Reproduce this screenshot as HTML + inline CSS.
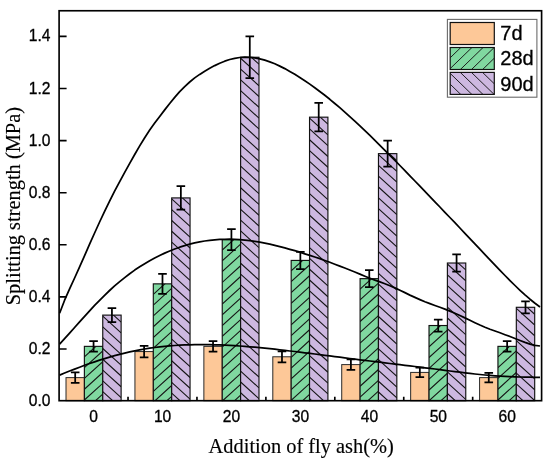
<!DOCTYPE html>
<html lang="en"><head><meta charset="utf-8"><title>Splitting strength vs fly ash addition</title>
<style>html,body{margin:0;padding:0;background:#fff}svg{display:block}</style></head>
<body>
<svg width="550" height="462" viewBox="0 0 550 462">
<rect width="550" height="462" fill="#fff"/>
<defs><clipPath id="c1"><rect x="84.38" y="346.37" width="18.37" height="54.33"/></clipPath><clipPath id="c2"><rect x="102.75" y="315.11" width="18.37" height="85.59"/></clipPath><clipPath id="c3"><rect x="153.31" y="283.86" width="18.37" height="116.84"/></clipPath><clipPath id="c4"><rect x="171.68" y="197.91" width="18.37" height="202.79"/></clipPath><clipPath id="c5"><rect x="222.24" y="239.58" width="18.37" height="161.12"/></clipPath><clipPath id="c6"><rect x="240.61" y="57.27" width="18.37" height="343.43"/></clipPath><clipPath id="c7"><rect x="291.17" y="260.42" width="18.37" height="140.28"/></clipPath><clipPath id="c8"><rect x="309.54" y="117.17" width="18.37" height="283.53"/></clipPath><clipPath id="c9"><rect x="360.09" y="278.65" width="18.37" height="122.05"/></clipPath><clipPath id="c10"><rect x="378.46" y="153.63" width="18.37" height="247.07"/></clipPath><clipPath id="c11"><rect x="429.02" y="325.53" width="18.37" height="75.17"/></clipPath><clipPath id="c12"><rect x="447.39" y="263.02" width="18.37" height="137.68"/></clipPath><clipPath id="c13"><rect x="497.95" y="346.37" width="18.37" height="54.33"/></clipPath><clipPath id="c14"><rect x="516.32" y="307.30" width="18.37" height="93.40"/></clipPath><clipPath id="c15"><rect x="450.20" y="47.50" width="44.10" height="22.00"/></clipPath><clipPath id="c16"><rect x="450.20" y="72.40" width="44.10" height="22.00"/></clipPath></defs>
<path d="M59.10 348.97H66.60M59.10 296.88H66.60M59.10 244.79H66.60M59.10 192.70H66.60M59.10 140.61H66.60M59.10 88.52H66.60M59.10 36.43H66.60M93.56 400.70V393.20M162.49 400.70V393.20M231.42 400.70V393.20M300.35 400.70V393.20M369.28 400.70V393.20M438.21 400.70V393.20M507.14 400.70V393.20M128.03 400.70V396.70M196.96 400.70V396.70M265.89 400.70V396.70M334.81 400.70V396.70M403.74 400.70V396.70M472.67 400.70V396.70" stroke="#000" stroke-width="1.65" fill="none"/>
<rect x="66.01" y="377.62" width="18.37" height="23.08" fill="#fdc898"/>
<rect x="66.01" y="377.62" width="18.37" height="23.08" fill="none" stroke="#2a2a2a" stroke-width="1.0"/>
<rect x="84.38" y="346.37" width="18.37" height="54.33" fill="#80d8a0"/>
<path clip-path="url(#c1)" d="M84.38 356.86L102.75 340.14M84.38 367.65L102.75 350.93M84.38 378.44L102.75 361.72M84.38 389.23L102.75 372.51M84.38 400.02L102.75 383.30M84.38 410.81L102.75 394.09" stroke="#151515" stroke-width="1.1" fill="none"/>
<rect x="84.38" y="346.37" width="18.37" height="54.33" fill="none" stroke="#111" stroke-width="1.15"/>
<rect x="102.75" y="315.11" width="18.37" height="85.59" fill="#cdb8e0"/>
<path clip-path="url(#c2)" d="M102.75 305.32L121.12 322.04M102.75 316.11L121.12 332.83M102.75 326.90L121.12 343.62M102.75 337.69L121.12 354.41M102.75 348.48L121.12 365.20M102.75 359.27L121.12 375.99M102.75 370.06L121.12 386.78M102.75 380.85L121.12 397.57M102.75 391.64L121.12 408.36" stroke="#151515" stroke-width="1.1" fill="none"/>
<rect x="102.75" y="315.11" width="18.37" height="85.59" fill="none" stroke="#111" stroke-width="1.15"/>
<rect x="134.94" y="351.57" width="18.37" height="49.13" fill="#fdc898"/>
<rect x="134.94" y="351.57" width="18.37" height="49.13" fill="none" stroke="#2a2a2a" stroke-width="1.0"/>
<rect x="153.31" y="283.86" width="18.37" height="116.84" fill="#80d8a0"/>
<path clip-path="url(#c3)" d="M153.31 294.35L171.68 277.63M153.31 305.14L171.68 288.42M153.31 315.93L171.68 299.21M153.31 326.72L171.68 310.00M153.31 337.51L171.68 320.79M153.31 348.30L171.68 331.58M153.31 359.09L171.68 342.37M153.31 369.88L171.68 353.16M153.31 380.67L171.68 363.95M153.31 391.46L171.68 374.74M153.31 402.25L171.68 385.53M153.31 413.04L171.68 396.32" stroke="#151515" stroke-width="1.1" fill="none"/>
<rect x="153.31" y="283.86" width="18.37" height="116.84" fill="none" stroke="#111" stroke-width="1.15"/>
<rect x="171.68" y="197.91" width="18.37" height="202.79" fill="#cdb8e0"/>
<path clip-path="url(#c4)" d="M171.68 188.12L190.05 204.84M171.68 198.91L190.05 215.63M171.68 209.70L190.05 226.42M171.68 220.49L190.05 237.21M171.68 231.28L190.05 248.00M171.68 242.07L190.05 258.79M171.68 252.86L190.05 269.58M171.68 263.65L190.05 280.37M171.68 274.44L190.05 291.16M171.68 285.23L190.05 301.95M171.68 296.02L190.05 312.74M171.68 306.81L190.05 323.53M171.68 317.60L190.05 334.32M171.68 328.39L190.05 345.11M171.68 339.18L190.05 355.90M171.68 349.97L190.05 366.69M171.68 360.76L190.05 377.48M171.68 371.55L190.05 388.27M171.68 382.34L190.05 399.06M171.68 393.13L190.05 409.85" stroke="#151515" stroke-width="1.1" fill="none"/>
<rect x="171.68" y="197.91" width="18.37" height="202.79" fill="none" stroke="#111" stroke-width="1.15"/>
<rect x="203.87" y="346.37" width="18.37" height="54.33" fill="#fdc898"/>
<rect x="203.87" y="346.37" width="18.37" height="54.33" fill="none" stroke="#2a2a2a" stroke-width="1.0"/>
<rect x="222.24" y="239.58" width="18.37" height="161.12" fill="#80d8a0"/>
<path clip-path="url(#c5)" d="M222.24 250.07L240.61 233.35M222.24 260.86L240.61 244.14M222.24 271.65L240.61 254.93M222.24 282.44L240.61 265.72M222.24 293.23L240.61 276.51M222.24 304.02L240.61 287.30M222.24 314.81L240.61 298.09M222.24 325.60L240.61 308.88M222.24 336.39L240.61 319.67M222.24 347.18L240.61 330.46M222.24 357.97L240.61 341.25M222.24 368.76L240.61 352.04M222.24 379.55L240.61 362.83M222.24 390.34L240.61 373.62M222.24 401.13L240.61 384.41M222.24 411.92L240.61 395.20" stroke="#151515" stroke-width="1.1" fill="none"/>
<rect x="222.24" y="239.58" width="18.37" height="161.12" fill="none" stroke="#111" stroke-width="1.15"/>
<rect x="240.61" y="57.27" width="18.37" height="343.43" fill="#cdb8e0"/>
<path clip-path="url(#c6)" d="M240.61 47.48L258.98 64.19M240.61 58.27L258.98 74.98M240.61 69.06L258.98 85.77M240.61 79.85L258.98 96.56M240.61 90.64L258.98 107.35M240.61 101.43L258.98 118.14M240.61 112.22L258.98 128.93M240.61 123.01L258.98 139.72M240.61 133.80L258.98 150.51M240.61 144.59L258.98 161.30M240.61 155.38L258.98 172.09M240.61 166.17L258.98 182.88M240.61 176.96L258.98 193.67M240.61 187.75L258.98 204.46M240.61 198.54L258.98 215.25M240.61 209.33L258.98 226.04M240.61 220.12L258.98 236.83M240.61 230.91L258.98 247.62M240.61 241.70L258.98 258.41M240.61 252.49L258.98 269.20M240.61 263.28L258.98 279.99M240.61 274.07L258.98 290.78M240.61 284.86L258.98 301.57M240.61 295.65L258.98 312.36M240.61 306.44L258.98 323.15M240.61 317.23L258.98 333.94M240.61 328.02L258.98 344.73M240.61 338.81L258.98 355.52M240.61 349.60L258.98 366.31M240.61 360.39L258.98 377.10M240.61 371.18L258.98 387.89M240.61 381.97L258.98 398.68M240.61 392.76L258.98 409.47" stroke="#151515" stroke-width="1.1" fill="none"/>
<rect x="240.61" y="57.27" width="18.37" height="343.43" fill="none" stroke="#111" stroke-width="1.15"/>
<rect x="272.80" y="356.78" width="18.37" height="43.92" fill="#fdc898"/>
<rect x="272.80" y="356.78" width="18.37" height="43.92" fill="none" stroke="#2a2a2a" stroke-width="1.0"/>
<rect x="291.17" y="260.42" width="18.37" height="140.28" fill="#80d8a0"/>
<path clip-path="url(#c7)" d="M291.17 270.91L309.54 254.19M291.17 281.70L309.54 264.98M291.17 292.49L309.54 275.77M291.17 303.28L309.54 286.56M291.17 314.07L309.54 297.35M291.17 324.86L309.54 308.14M291.17 335.65L309.54 318.93M291.17 346.44L309.54 329.72M291.17 357.23L309.54 340.51M291.17 368.02L309.54 351.30M291.17 378.81L309.54 362.09M291.17 389.60L309.54 372.88M291.17 400.39L309.54 383.67M291.17 411.18L309.54 394.46" stroke="#151515" stroke-width="1.1" fill="none"/>
<rect x="291.17" y="260.42" width="18.37" height="140.28" fill="none" stroke="#111" stroke-width="1.15"/>
<rect x="309.54" y="117.17" width="18.37" height="283.53" fill="#cdb8e0"/>
<path clip-path="url(#c8)" d="M309.54 107.38L327.91 124.10M309.54 118.17L327.91 134.89M309.54 128.96L327.91 145.68M309.54 139.75L327.91 156.47M309.54 150.54L327.91 167.26M309.54 161.33L327.91 178.05M309.54 172.12L327.91 188.84M309.54 182.91L327.91 199.63M309.54 193.70L327.91 210.42M309.54 204.49L327.91 221.21M309.54 215.28L327.91 232.00M309.54 226.07L327.91 242.79M309.54 236.86L327.91 253.58M309.54 247.65L327.91 264.37M309.54 258.44L327.91 275.16M309.54 269.23L327.91 285.95M309.54 280.02L327.91 296.74M309.54 290.81L327.91 307.53M309.54 301.60L327.91 318.32M309.54 312.39L327.91 329.11M309.54 323.18L327.91 339.90M309.54 333.97L327.91 350.69M309.54 344.76L327.91 361.48M309.54 355.55L327.91 372.27M309.54 366.34L327.91 383.06M309.54 377.13L327.91 393.85M309.54 387.92L327.91 404.64M309.54 398.71L327.91 415.43" stroke="#151515" stroke-width="1.1" fill="none"/>
<rect x="309.54" y="117.17" width="18.37" height="283.53" fill="none" stroke="#111" stroke-width="1.15"/>
<rect x="341.72" y="364.60" width="18.37" height="36.10" fill="#fdc898"/>
<rect x="341.72" y="364.60" width="18.37" height="36.10" fill="none" stroke="#2a2a2a" stroke-width="1.0"/>
<rect x="360.09" y="278.65" width="18.37" height="122.05" fill="#80d8a0"/>
<path clip-path="url(#c9)" d="M360.09 289.14L378.46 272.42M360.09 299.93L378.46 283.21M360.09 310.72L378.46 294.00M360.09 321.51L378.46 304.79M360.09 332.30L378.46 315.58M360.09 343.09L378.46 326.37M360.09 353.88L378.46 337.16M360.09 364.67L378.46 347.95M360.09 375.46L378.46 358.74M360.09 386.25L378.46 369.53M360.09 397.04L378.46 380.32M360.09 407.83L378.46 391.11" stroke="#151515" stroke-width="1.1" fill="none"/>
<rect x="360.09" y="278.65" width="18.37" height="122.05" fill="none" stroke="#111" stroke-width="1.15"/>
<rect x="378.46" y="153.63" width="18.37" height="247.07" fill="#cdb8e0"/>
<path clip-path="url(#c10)" d="M378.46 143.84L396.83 160.56M378.46 154.63L396.83 171.35M378.46 165.42L396.83 182.14M378.46 176.21L396.83 192.93M378.46 187.00L396.83 203.72M378.46 197.79L396.83 214.51M378.46 208.58L396.83 225.30M378.46 219.37L396.83 236.09M378.46 230.16L396.83 246.88M378.46 240.95L396.83 257.67M378.46 251.74L396.83 268.46M378.46 262.53L396.83 279.25M378.46 273.32L396.83 290.04M378.46 284.11L396.83 300.83M378.46 294.90L396.83 311.62M378.46 305.69L396.83 322.41M378.46 316.48L396.83 333.20M378.46 327.27L396.83 343.99M378.46 338.06L396.83 354.78M378.46 348.85L396.83 365.57M378.46 359.64L396.83 376.36M378.46 370.43L396.83 387.15M378.46 381.22L396.83 397.94M378.46 392.01L396.83 408.73" stroke="#151515" stroke-width="1.1" fill="none"/>
<rect x="378.46" y="153.63" width="18.37" height="247.07" fill="none" stroke="#111" stroke-width="1.15"/>
<rect x="410.65" y="372.41" width="18.37" height="28.29" fill="#fdc898"/>
<rect x="410.65" y="372.41" width="18.37" height="28.29" fill="none" stroke="#2a2a2a" stroke-width="1.0"/>
<rect x="429.02" y="325.53" width="18.37" height="75.17" fill="#80d8a0"/>
<path clip-path="url(#c11)" d="M429.02 336.02L447.39 319.30M429.02 346.81L447.39 330.09M429.02 357.60L447.39 340.88M429.02 368.39L447.39 351.67M429.02 379.18L447.39 362.46M429.02 389.97L447.39 373.25M429.02 400.76L447.39 384.04M429.02 411.55L447.39 394.83" stroke="#151515" stroke-width="1.1" fill="none"/>
<rect x="429.02" y="325.53" width="18.37" height="75.17" fill="none" stroke="#111" stroke-width="1.15"/>
<rect x="447.39" y="263.02" width="18.37" height="137.68" fill="#cdb8e0"/>
<path clip-path="url(#c12)" d="M447.39 253.23L465.76 269.95M447.39 264.02L465.76 280.74M447.39 274.81L465.76 291.53M447.39 285.60L465.76 302.32M447.39 296.39L465.76 313.11M447.39 307.18L465.76 323.90M447.39 317.97L465.76 334.69M447.39 328.76L465.76 345.48M447.39 339.55L465.76 356.27M447.39 350.34L465.76 367.06M447.39 361.13L465.76 377.85M447.39 371.92L465.76 388.64M447.39 382.71L465.76 399.43M447.39 393.50L465.76 410.22" stroke="#151515" stroke-width="1.1" fill="none"/>
<rect x="447.39" y="263.02" width="18.37" height="137.68" fill="none" stroke="#111" stroke-width="1.15"/>
<rect x="479.58" y="377.62" width="18.37" height="23.08" fill="#fdc898"/>
<rect x="479.58" y="377.62" width="18.37" height="23.08" fill="none" stroke="#2a2a2a" stroke-width="1.0"/>
<rect x="497.95" y="346.37" width="18.37" height="54.33" fill="#80d8a0"/>
<path clip-path="url(#c13)" d="M497.95 356.86L516.32 340.14M497.95 367.65L516.32 350.93M497.95 378.44L516.32 361.72M497.95 389.23L516.32 372.51M497.95 400.02L516.32 383.30M497.95 410.81L516.32 394.09" stroke="#151515" stroke-width="1.1" fill="none"/>
<rect x="497.95" y="346.37" width="18.37" height="54.33" fill="none" stroke="#111" stroke-width="1.15"/>
<rect x="516.32" y="307.30" width="18.37" height="93.40" fill="#cdb8e0"/>
<path clip-path="url(#c14)" d="M516.32 297.51L534.69 314.22M516.32 308.30L534.69 325.01M516.32 319.09L534.69 335.80M516.32 329.88L534.69 346.59M516.32 340.67L534.69 357.38M516.32 351.46L534.69 368.17M516.32 362.25L534.69 378.96M516.32 373.04L534.69 389.75M516.32 383.83L534.69 400.54M516.32 394.62L534.69 411.33" stroke="#151515" stroke-width="1.1" fill="none"/>
<rect x="516.32" y="307.30" width="18.37" height="93.40" fill="none" stroke="#111" stroke-width="1.15"/>
<path d="M75.19 372.41V382.83M70.89 372.41H79.49M70.89 382.83H79.49M93.56 341.16V351.57M89.26 341.16H97.86M89.26 351.57H97.86M111.93 308.08V322.14M107.63 308.08H116.23M107.63 322.14H116.23M144.12 345.84V357.30M139.82 345.84H148.42M139.82 357.30H148.42M162.49 273.96V293.75M158.19 273.96H166.79M158.19 293.75H166.79M180.86 186.19V209.63M176.56 186.19H185.16M176.56 209.63H185.16M213.05 341.16V351.57M208.75 341.16H217.35M208.75 351.57H217.35M231.42 229.16V250.00M227.12 229.16H235.72M227.12 250.00H235.72M249.79 36.43V78.10M245.49 36.43H254.09M245.49 78.10H254.09M281.98 351.31V362.25M277.68 351.31H286.28M277.68 362.25H286.28M300.35 251.82V269.01M296.05 251.82H304.65M296.05 269.01H304.65M318.72 102.84V131.49M314.42 102.84H323.02M314.42 131.49H323.02M350.91 359.39V369.81M346.61 359.39H355.21M346.61 369.81H355.21M369.28 270.05V287.24M364.98 270.05H373.58M364.98 287.24H373.58M387.65 140.61V166.66M383.35 140.61H391.95M383.35 166.66H391.95M419.84 367.72V377.10M415.54 367.72H424.14M415.54 377.10H424.14M438.21 319.54V331.52M433.91 319.54H442.51M433.91 331.52H442.51M456.58 254.43V271.62M452.28 254.43H460.88M452.28 271.62H460.88M488.77 372.93V382.31M484.47 372.93H493.07M484.47 382.31H493.07M507.14 341.16V351.57M502.84 341.16H511.44M502.84 351.57H511.44M525.51 301.31V313.29M521.21 301.31H529.81M521.21 313.29H529.81" stroke="#000" stroke-width="1.75" fill="none"/>
<path d="M59.6 313.3 L64.6 300.2 L69.6 288.9 L74.6 278.0 L79.6 266.9 L84.6 255.6 L89.6 244.2 L94.6 233.0 L99.6 222.0 L104.6 211.4 L109.6 201.1 L114.6 191.2 L119.7 181.6 L124.7 172.4 L129.7 163.3 L134.7 154.5 L139.7 145.9 L144.7 137.7 L149.7 130.1 L154.7 123.1 L159.7 116.4 L164.7 109.9 L169.7 103.5 L174.7 97.4 L179.7 91.7 L184.7 86.6 L189.7 82.0 L194.7 77.9 L199.7 74.4 L204.7 71.2 L209.7 68.3 L214.7 65.6 L219.7 63.2 L224.7 61.2 L229.7 59.5 L234.7 58.3 L239.7 57.5 L244.8 57.2 L249.8 57.3 L254.8 57.8 L259.8 58.8 L264.8 60.2 L269.8 61.9 L274.8 63.8 L279.8 66.1 L284.8 68.6 L289.8 71.4 L294.8 74.3 L299.8 77.4 L304.8 80.7 L309.8 84.1 L314.8 87.7 L319.8 91.5 L324.8 95.3 L329.8 99.3 L334.8 103.5 L339.8 107.7 L344.8 112.1 L349.8 116.6 L354.8 121.2 L359.9 125.8 L364.9 130.6 L369.9 135.4 L374.9 140.3 L379.9 145.3 L384.9 150.3 L389.9 155.3 L394.9 160.4 L399.9 165.5 L404.9 170.6 L409.9 175.8 L414.9 181.0 L419.9 186.2 L424.9 191.4 L429.9 196.6 L434.9 201.8 L439.9 207.0 L444.9 212.3 L449.9 217.5 L454.9 222.7 L459.9 228.0 L464.9 233.3 L469.9 238.6 L474.9 243.9 L479.9 249.2 L485.0 254.6 L490.0 259.9 L495.0 265.1 L500.0 270.4 L505.0 275.5 L510.0 280.6 L515.0 285.5 L520.0 290.3 L525.0 294.9 L530.0 299.2 L535.0 303.2 L540.0 307.0" stroke="#000" stroke-width="1.75" fill="none" stroke-linejoin="round"/>
<path d="M59.6 344.2 L64.6 338.7 L69.6 333.1 L74.6 327.5 L79.6 321.8 L84.6 316.3 L89.6 310.8 L94.6 305.4 L99.6 300.3 L104.6 295.3 L109.6 290.5 L114.6 285.9 L119.7 281.6 L124.7 277.6 L129.7 273.7 L134.7 270.1 L139.7 266.8 L144.7 263.7 L149.7 260.7 L154.7 258.0 L159.7 255.5 L164.7 253.1 L169.7 251.0 L174.7 249.0 L179.7 247.2 L184.7 245.6 L189.7 244.2 L194.7 242.9 L199.7 241.9 L204.7 241.0 L209.7 240.3 L214.7 239.8 L219.7 239.4 L224.7 239.3 L229.7 239.2 L234.7 239.4 L239.7 239.7 L244.8 240.1 L249.8 240.7 L254.8 241.4 L259.8 242.2 L264.8 243.2 L269.8 244.2 L274.8 245.4 L279.8 246.6 L284.8 247.9 L289.8 249.3 L294.8 250.7 L299.8 252.2 L304.8 253.8 L309.8 255.4 L314.8 257.0 L319.8 258.7 L324.8 260.5 L329.8 262.3 L334.8 264.2 L339.8 266.1 L344.8 268.0 L349.8 270.0 L354.8 272.0 L359.9 274.1 L364.9 276.2 L369.9 278.2 L374.9 280.1 L379.9 281.9 L384.9 283.7 L389.9 285.7 L394.9 287.9 L399.9 290.2 L404.9 292.6 L409.9 295.1 L414.9 297.4 L419.9 299.6 L424.9 301.7 L429.9 303.6 L434.9 305.5 L439.9 307.3 L444.9 309.1 L449.9 311.1 L454.9 313.2 L459.9 315.5 L464.9 317.9 L469.9 320.3 L474.9 322.7 L479.9 325.0 L485.0 327.2 L490.0 329.2 L495.0 331.0 L500.0 332.8 L505.0 334.7 L510.0 336.5 L515.0 338.5 L520.0 340.5 L525.0 342.4 L530.0 344.1 L535.0 345.4 L540.0 346.0" stroke="#000" stroke-width="1.75" fill="none" stroke-linejoin="round"/>
<path d="M59.6 375.1 L64.6 373.0 L69.6 371.0 L74.6 369.1 L79.6 367.2 L84.6 365.3 L89.6 363.5 L94.6 361.8 L99.6 360.2 L104.6 358.6 L109.6 357.1 L114.6 355.7 L119.7 354.3 L124.7 353.1 L129.7 351.9 L134.7 350.8 L139.7 349.9 L144.7 349.0 L149.7 348.2 L154.7 347.5 L159.7 346.9 L164.7 346.3 L169.7 345.9 L174.7 345.5 L179.7 345.2 L184.7 344.9 L189.7 344.8 L194.7 344.6 L199.7 344.6 L204.7 344.6 L209.7 344.7 L214.7 344.8 L219.7 344.9 L224.7 345.1 L229.7 345.4 L234.7 345.7 L239.7 346.0 L244.8 346.4 L249.8 346.8 L254.8 347.2 L259.8 347.7 L264.8 348.2 L269.8 348.7 L274.8 349.2 L279.8 349.8 L284.8 350.4 L289.8 351.0 L294.8 351.5 L299.8 352.2 L304.8 352.8 L309.8 353.4 L314.8 354.0 L319.8 354.7 L324.8 355.3 L329.8 355.9 L334.8 356.6 L339.8 357.2 L344.8 357.9 L349.8 358.5 L354.8 359.1 L359.9 359.8 L364.9 360.4 L369.9 361.0 L374.9 361.6 L379.9 362.2 L384.9 362.9 L389.9 363.5 L394.9 364.1 L399.9 364.7 L404.9 365.3 L409.9 365.9 L414.9 366.5 L419.9 367.2 L424.9 367.8 L429.9 368.4 L434.9 369.0 L439.9 369.7 L444.9 370.3 L449.9 371.0 L454.9 371.6 L459.9 372.2 L464.9 372.8 L469.9 373.4 L474.9 374.0 L479.9 374.5 L485.0 375.0 L490.0 375.4 L495.0 375.8 L500.0 376.1 L505.0 376.4 L510.0 376.6 L515.0 376.8 L520.0 377.0 L525.0 377.1 L530.0 377.2 L535.0 377.3 L540.0 377.4" stroke="#000" stroke-width="1.75" fill="none" stroke-linejoin="round"/>
<rect x="59.10" y="10.75" width="482.50" height="389.95" fill="none" stroke="#000" stroke-width="1.65"/>
<g font-family="'Liberation Sans', Arial, sans-serif" font-size="15.6" fill="#000" stroke="#000" stroke-width="0.3"><text transform="translate(50.4 406.1) scale(1 1.11)" text-anchor="end">0.0</text><text transform="translate(50.4 354.0) scale(1 1.11)" text-anchor="end">0.2</text><text transform="translate(50.4 301.9) scale(1 1.11)" text-anchor="end">0.4</text><text transform="translate(50.4 249.8) scale(1 1.11)" text-anchor="end">0.6</text><text transform="translate(50.4 197.7) scale(1 1.11)" text-anchor="end">0.8</text><text transform="translate(50.4 145.6) scale(1 1.11)" text-anchor="end">1.0</text><text transform="translate(50.4 93.5) scale(1 1.11)" text-anchor="end">1.2</text><text transform="translate(50.4 41.4) scale(1 1.11)" text-anchor="end">1.4</text><text transform="translate(93.7 422.3) scale(1 1.11)" text-anchor="middle">0</text><text transform="translate(162.6 422.3) scale(1 1.11)" text-anchor="middle">10</text><text transform="translate(231.5 422.3) scale(1 1.11)" text-anchor="middle">20</text><text transform="translate(300.5 422.3) scale(1 1.11)" text-anchor="middle">30</text><text transform="translate(369.4 422.3) scale(1 1.11)" text-anchor="middle">40</text><text transform="translate(438.3 422.3) scale(1 1.11)" text-anchor="middle">50</text><text transform="translate(507.2 422.3) scale(1 1.11)" text-anchor="middle">60</text></g>
<g font-family="'Liberation Serif', 'Times New Roman', serif" font-size="20.4" fill="#000" stroke="#000" stroke-width="0.15"><text x="301.2" y="453.0" text-anchor="middle">Addition of fly ash(%)</text><text transform="translate(19.9 206.1) rotate(-90)" text-anchor="middle">Splitting strength (MPa)</text></g>
<rect x="447.4" y="19.4" width="89.5" height="77.8" fill="#fff" stroke="#6a6a6a" stroke-width="1.1"/>
<rect x="450.20" y="22.50" width="44.10" height="22.00" fill="#fdc898"/>
<rect x="450.20" y="22.50" width="44.10" height="22.00" fill="none" stroke="#111" stroke-width="1.2"/>
<text x="500.3" y="40.3" font-family="'Liberation Sans', Arial, sans-serif" font-size="20" fill="#000" stroke="#000" stroke-width="0.3">7d</text>
<rect x="450.20" y="47.50" width="44.10" height="22.00" fill="#80d8a0"/>
<path clip-path="url(#c15)" d="M450.20 57.79L494.30 15.01M450.20 68.58L494.30 25.80M450.20 79.37L494.30 36.59M450.20 90.16L494.30 47.38M450.20 100.95L494.30 58.17M450.20 111.74L494.30 68.96" stroke="#151515" stroke-width="0.95" fill="none"/>
<rect x="450.20" y="47.50" width="44.10" height="22.00" fill="none" stroke="#111" stroke-width="1.2"/>
<text x="500.3" y="65.0" font-family="'Liberation Sans', Arial, sans-serif" font-size="20" fill="#000" stroke="#000" stroke-width="0.3">28d</text>
<rect x="450.20" y="72.40" width="44.10" height="22.00" fill="#cdb8e0"/>
<path clip-path="url(#c16)" d="M450.20 30.24L494.30 73.02M450.20 41.03L494.30 83.81M450.20 51.82L494.30 94.60M450.20 62.61L494.30 105.39M450.20 73.40L494.30 116.18M450.20 84.19L494.30 126.97" stroke="#151515" stroke-width="0.95" fill="none"/>
<rect x="450.20" y="72.40" width="44.10" height="22.00" fill="none" stroke="#111" stroke-width="1.2"/>
<text x="500.3" y="90.7" font-family="'Liberation Sans', Arial, sans-serif" font-size="20" fill="#000" stroke="#000" stroke-width="0.3">90d</text>
</svg>
</body></html>
